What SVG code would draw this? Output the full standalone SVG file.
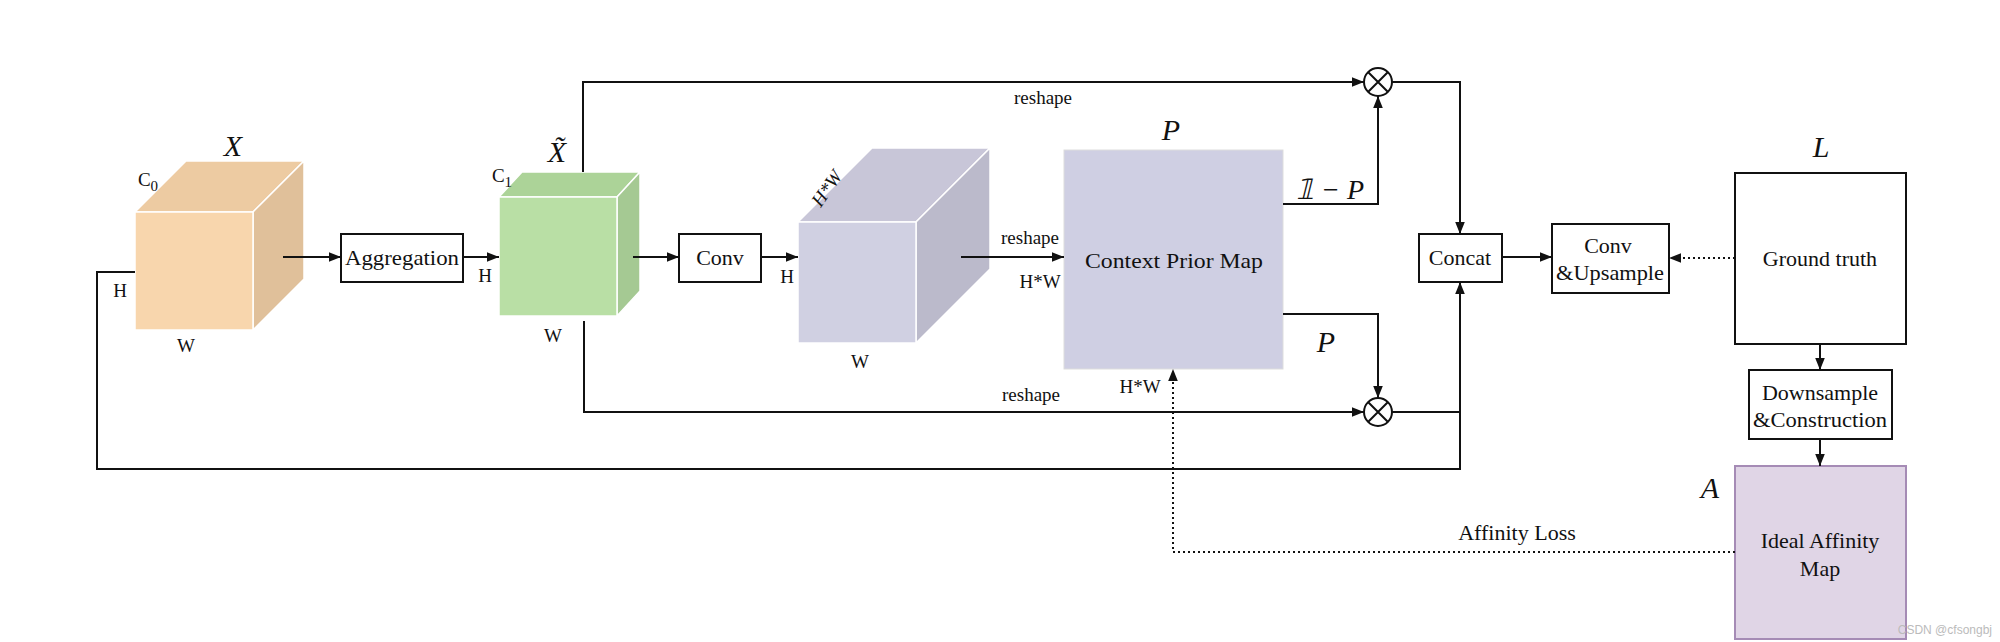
<svg xmlns="http://www.w3.org/2000/svg" width="2000" height="642" viewBox="0 0 2000 642">
<style>
text{font-family:"Liberation Serif",serif;fill:#111}
.t{font-size:22px;text-anchor:middle}
.s{font-size:19px;text-anchor:middle}
.i{font-style:italic;font-size:30px;text-anchor:middle}
.box{fill:#fff;stroke:#111;stroke-width:2}
.ln{fill:none;stroke:#111;stroke-width:2}
.dt{fill:none;stroke:#111;stroke-width:2;stroke-dasharray:2 3}
.f{stroke:#fff;stroke-width:1.5}
.wm{font-family:"Liberation Sans",sans-serif;font-size:12px;fill:#bbb;text-anchor:end}
</style>
<defs><marker id="a" viewBox="0 0 10 10" refX="10" refY="5" markerWidth="6" markerHeight="6" orient="auto"><path d="M0,1 L10,5 L0,9 z" fill="#111"/></marker></defs>
<rect width="2000" height="642" fill="#fff"/>
<g id="cubeX">
<polygon class="f" points="135,212 186,161 304,161 253,212" fill="#edcba2"/>
<polygon class="f" points="253,212 304,161 304,279 253,330" fill="#e0c09a"/>
<rect class="f" x="135" y="212" width="118" height="118" fill="#f8d6ad"/>
<text class="i" x="233" y="156">X</text>
<text class="s" x="148" y="186">C<tspan font-size="15" dy="5">0</tspan></text>
<text class="s" x="120" y="297">H</text>
<text class="s" x="186" y="352">W</text>
</g>
<g id="aggregation"><rect class="box" x="341" y="234" width="122" height="48"/><text class="t" x="402" y="265" textLength="114" lengthAdjust="spacingAndGlyphs">Aggregation</text></g>
<g id="cubeXt">
<polygon class="f" points="499,197 522,172 640,172 617,197" fill="#acd398"/>
<polygon class="f" points="617,197 640,172 640,291 617,316" fill="#a5c993"/>
<rect class="f" x="499" y="197" width="118" height="119" fill="#b9dfa5"/>
<text class="i" x="557" y="162">X̃</text>
<text class="s" x="502" y="182">C<tspan font-size="15" dy="5">1</tspan></text>
<text class="s" x="485" y="282">H</text>
<text class="s" x="553" y="342">W</text>
</g>
<g id="conv"><rect class="box" x="679" y="234" width="82" height="48"/><text class="t" x="720" y="265">Conv</text></g>
<g id="cubeP">
<polygon class="f" points="798,222 872,148 990,148 916,222" fill="#c8c6d8"/>
<polygon class="f" points="916,222 990,148 990,269 916,343" fill="#bbbacb"/>
<rect class="f" x="798" y="222" width="118" height="121" fill="#d0d0e2"/>
<text class="s" x="0" y="0" transform="translate(832,192) rotate(-55)" font-style="italic">H*W</text>
<text class="s" x="860" y="368">W</text>
<text class="s" x="787" y="283">H</text>
</g>
<g id="cpm"><rect x="1064" y="150" width="219" height="219" fill="#cfcfe3" stroke="#ddd"/><text class="t" x="1174" y="268" font-size="25" textLength="178" lengthAdjust="spacingAndGlyphs">Context Prior Map</text><text class="i" x="1171" y="140">P</text></g>
<g id="concat"><rect class="box" x="1419" y="234" width="83" height="48"/><text class="t" x="1460" y="265">Concat</text></g>
<g id="convup"><rect class="box" x="1552" y="224" width="117" height="69"/><text class="t" x="1608" y="253">Conv</text><text class="t" x="1610" y="280" textLength="108" lengthAdjust="spacingAndGlyphs">&amp;Upsample</text></g>
<g id="gt"><rect class="box" x="1735" y="173" width="171" height="171"/><text class="t" x="1820" y="266">Ground truth</text><text class="i" x="1821" y="157">L</text></g>
<g id="down"><rect class="box" x="1749" y="370" width="143" height="69"/><text class="t" x="1820" y="400">Downsample</text><text class="t" x="1820" y="427" textLength="134" lengthAdjust="spacingAndGlyphs">&amp;Construction</text></g>
<g id="ideal"><rect x="1735" y="466" width="171" height="173" fill="#e0d5e6" stroke="#a58bb5" stroke-width="2"/><text class="t" x="1820" y="548" font-size="24">Ideal Affinity</text><text class="t" x="1820" y="576" font-size="24">Map</text><text class="i" x="1710" y="498">A</text></g>
<g id="mul1"><circle cx="1378" cy="82" r="14" class="box"/><path class="ln" d="M1368,72 L1388,92 M1388,72 L1368,92"/></g>
<g id="mul2"><circle cx="1378" cy="412" r="14" class="box"/><path class="ln" d="M1368,402 L1388,422 M1388,402 L1368,422"/></g>
<g id="connectors">
<path class="ln" d="M283,257 H341" marker-end="url(#a)"/>
<path class="ln" d="M463,257 H499" marker-end="url(#a)"/>
<path class="ln" d="M633,257 H679" marker-end="url(#a)"/>
<path class="ln" d="M761,257 H798" marker-end="url(#a)"/>
<path class="ln" d="M961,257 H1064" marker-end="url(#a)"/>
<text class="s" x="1030" y="244">reshape</text>
<text class="s" x="1040" y="288">H*W</text>
<path class="ln" d="M583,172 V82 H1364" marker-end="url(#a)"/>
<text class="s" x="1043" y="104">reshape</text>
<path class="ln" d="M584,321 V412 H1364" marker-end="url(#a)"/>
<text class="s" x="1031" y="401">reshape</text>
<path class="ln" d="M1283,204 H1378 V96" marker-end="url(#a)"/>
<text x="1330" y="199" font-size="28" font-style="italic" text-anchor="middle">𝟙 − P</text>
<path class="ln" d="M1283,314 H1378 V398" marker-end="url(#a)"/>
<text class="i" x="1326" y="352">P</text>
<path class="ln" d="M1392,82 H1460 V234" marker-end="url(#a)"/>
<path class="ln" d="M1392,412 H1460"/>
<path class="ln" d="M135,272 H97 V469 H1460 V282" marker-end="url(#a)"/>
<path class="ln" d="M1502,257 H1552" marker-end="url(#a)"/>
<path class="dt" d="M1735,258 H1669" marker-end="url(#a)"/>
<path class="ln" d="M1820,344 V370" marker-end="url(#a)"/>
<path class="ln" d="M1820,439 V466" marker-end="url(#a)"/>
<path class="dt" d="M1735,552 H1173 V369" marker-end="url(#a)"/>
<text class="s" x="1140" y="393">H*W</text>
<text class="t" x="1517" y="540">Affinity Loss</text>
</g>
<text class="wm" x="1992" y="634">CSDN @cfsongbj</text>
</svg>
